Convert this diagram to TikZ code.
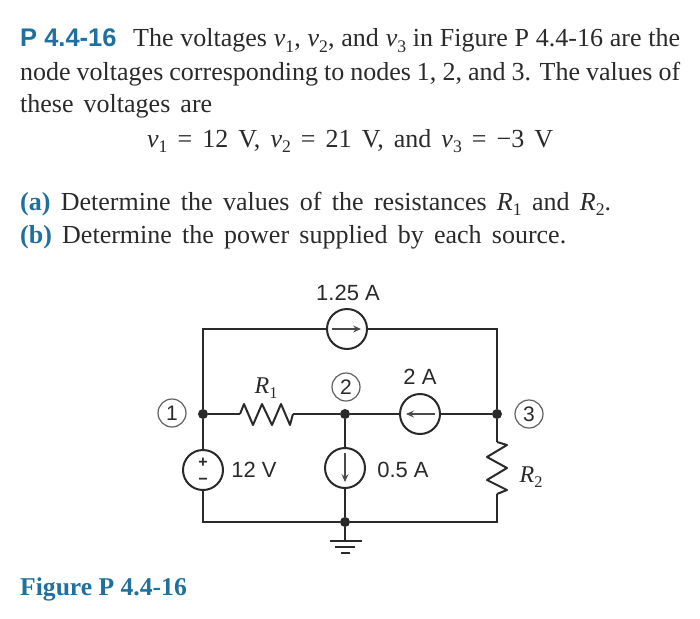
\documentclass[tikz,border=0pt]{standalone}
\usepackage{graphicx}
\usepackage{fontspec}
\setmainfont{Liberation Serif}
\newfontfamily\lsans{Liberation Sans}
\usetikzlibrary{arrows.meta}
\definecolor{pblue}{HTML}{1F6F9F}
\definecolor{ink}{HTML}{2A2A2A}
\newcommand{\vv}[1]{\textit{v}\raisebox{-0.2em}{\scalebox{0.68}{#1}}}
\newcommand{\RR}[1]{\textit{R}\raisebox{-0.2em}{\scalebox{0.68}{#1}}}
\newcommand{\fitline}[2]{\makebox[#1pt][s]{#2}}
\tikzset{
  wire/.style={draw=ink,line width=2pt},
  txt/.style={anchor=base west,inner sep=0pt,text=ink,font=\fontsize{26pt}{30pt}\selectfont},
  lab/.style={inner sep=0pt,text=ink,font=\lsans\fontsize{22pt}{24pt}\selectfont},
  src/.style={circle,draw=ink,line width=2pt,minimum size=40pt,inner sep=0pt,fill=white},
  tag/.style={circle,draw=ink!75,line width=1.2pt,minimum size=28pt,inner sep=0pt,text=ink,font=\lsans\fontsize{21pt}{24pt}\selectfont},
  dot/.style={circle,fill=ink,minimum size=10pt,inner sep=0pt},
  inarrow/.style={draw=ink!85,line width=1.1pt,-{Stealth[length=8pt,width=7pt,inset=3pt]}}
}
\begin{document}
\begin{tikzpicture}[x=1pt,y=-1pt]
\useasboundingbox (0,0) rectangle (700,618);
% text
\node[txt,text=pblue,font=\lsans\bfseries\fontsize{25.5pt}{30pt}\selectfont] (head) at (20,47) {P 4.4-16};
\node[txt] (l1) at (133,47) {\fitline{547}{The voltages \vv{1}, \vv{2}, and \vv{3} in Figure P 4.4-16 are the}};
\node[txt] (l2) at (20,80) {\fitline{660}{node voltages corresponding to nodes 1, 2, and 3. The values of}};
\node[txt] (l3) at (20,112) {\fitline{192}{these voltages are}};
\node[txt] (eq) at (147,147) {\fitline{406}{\vv{1} = 12 V, \vv{2} = 21 V, and \vv{3} = −3 V}};
\node[txt] (a) at (20,210) {\fitline{591}{\textcolor{pblue}{\textbf{(a)}} Determine the values of the resistances \RR{1} and \RR{2}.}};
\node[txt] (b) at (20,243) {\fitline{546}{\textcolor{pblue}{\textbf{(b)}} Determine the power supplied by each source.}};
\node[txt,text=pblue,font=\bfseries\fontsize{25.6pt}{30pt}\selectfont] (fig) at (20,595) {Figure P 4.4-16};
% junctions
\node[dot] (n1) at (203,414) {};
\node[dot] (n2) at (345,414) {};
\node[dot] (n3) at (497,414) {};
\node[dot] (n0) at (345,522) {};
\coordinate (tl) at (203,329);
\coordinate (tr) at (497,329);
\coordinate (bl) at (203,522);
\coordinate (br) at (497,522);
\coordinate (r1a) at (240,414);
\coordinate (r1b) at (293,414);
\coordinate (r2a) at (497,442);
\coordinate (r2b) at (497,494);
\coordinate (gnd) at (345,541);
% sources
\node[src] (s125) at (347,329) {};
\node[src] (s2) at (420,414) {};
\node[src] (s12) at (203,470) {};
\node[src] (s05) at (345,468) {};
% wires
\draw[wire] (s125) -- (tl) -- (n1) -- (s12) -- (bl) -- (n0) -- (br) -- (r2b);
\draw[wire] (s125) -- (tr) -- (n3) -- (s2) -- (n2) -- (r1b);
\draw[wire] (n3) -- (r2a);
\draw[wire] (n1) -- (r1a);
\draw[wire] (n2) -- (s05) -- (n0) -- (gnd);
% resistors
\draw[wire,line join=round] (r1a) -- (244,404) -- (253,425) -- (262,404) -- (272,425) -- (281,404) -- (290,425) -- (r1b);
\draw[wire,line join=round] (r2a) -- (507,445) -- (487,457) -- (507,468) -- (487,480) -- (507,490) -- (r2b);
% ground
\draw[wire] (330,541) -- (362,541);
\draw[wire] (335,547) -- (355,547);
\draw[wire] (341,553) -- (350,553);
% source interiors
\draw[inarrow] (s125.center) ++(-15,0) -- ++(29,0);
\draw[inarrow] (s2.center) ++(15,0) -- ++(-29,0);
\draw[inarrow] (s05.center) ++(0,-15) -- ++(0,29);
\node[inner sep=0pt,text=ink,font=\lsans\bfseries\fontsize{16pt}{16pt}\selectfont] (plus) at (203,463) {+};
\node[inner sep=0pt,text=ink,font=\lsans\bfseries\fontsize{16pt}{16pt}\selectfont] (minus) at (203,481) {−};
% labels
\node[lab] (t125) at (348,293) {1.25 A};
\node[lab] (t2) at (420,377) {2 A};
\node[lab] (t12) at (254,470) {12 V};
\node[lab] (t05) at (403,470) {0.5 A};
\node[inner sep=0pt,text=ink,font=\fontsize{24pt}{26pt}\selectfont] (tr1) at (266,388) {\RR{1}};
\node[inner sep=0pt,text=ink,font=\fontsize{24pt}{26pt}\selectfont] (tr2) at (531,477) {\RR{2}};
\node[tag] (c1) at (172,413) {1};
\node[tag] (c2) at (346,387) {2};
\node[tag] (c3) at (529,414) {3};
\end{tikzpicture}
\end{document}
